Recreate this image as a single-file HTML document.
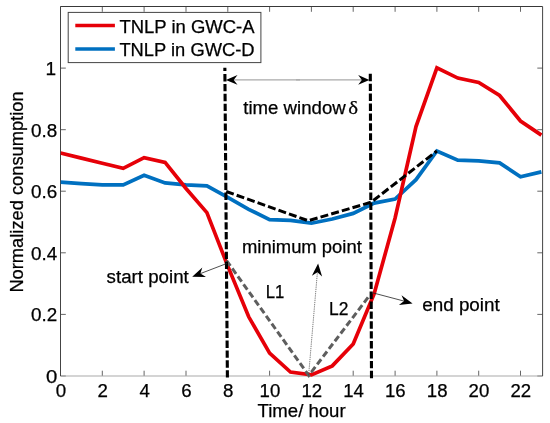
<!DOCTYPE html>
<html lang="en"><head><meta charset="utf-8"><title>TNLP chart</title>
<style>html,body{margin:0;padding:0;background:#fff}body{width:550px;height:423px;overflow:hidden}</style></head>
<body>
<svg width="550" height="423" viewBox="0 0 550 423" style="display:block">
<rect width="550" height="423" fill="#fff"/>
<clipPath id="c"><rect x="60.5" y="6.5" width="482.1" height="372.5"/></clipPath>
<g stroke="#666" stroke-width="1" fill="none">
<line x1="60.5" y1="376.0" x2="60.5" y2="370.7"/>
<line x1="60.5" y1="6.5" x2="60.5" y2="11.8"/>
<line x1="102.3" y1="376.0" x2="102.3" y2="370.7"/>
<line x1="102.3" y1="6.5" x2="102.3" y2="11.8"/>
<line x1="144.1" y1="376.0" x2="144.1" y2="370.7"/>
<line x1="144.1" y1="6.5" x2="144.1" y2="11.8"/>
<line x1="186.0" y1="376.0" x2="186.0" y2="370.7"/>
<line x1="186.0" y1="6.5" x2="186.0" y2="11.8"/>
<line x1="227.8" y1="376.0" x2="227.8" y2="370.7"/>
<line x1="227.8" y1="6.5" x2="227.8" y2="11.8"/>
<line x1="269.6" y1="376.0" x2="269.6" y2="370.7"/>
<line x1="269.6" y1="6.5" x2="269.6" y2="11.8"/>
<line x1="311.4" y1="376.0" x2="311.4" y2="370.7"/>
<line x1="311.4" y1="6.5" x2="311.4" y2="11.8"/>
<line x1="353.2" y1="376.0" x2="353.2" y2="370.7"/>
<line x1="353.2" y1="6.5" x2="353.2" y2="11.8"/>
<line x1="395.1" y1="376.0" x2="395.1" y2="370.7"/>
<line x1="395.1" y1="6.5" x2="395.1" y2="11.8"/>
<line x1="436.9" y1="376.0" x2="436.9" y2="370.7"/>
<line x1="436.9" y1="6.5" x2="436.9" y2="11.8"/>
<line x1="478.7" y1="376.0" x2="478.7" y2="370.7"/>
<line x1="478.7" y1="6.5" x2="478.7" y2="11.8"/>
<line x1="520.5" y1="376.0" x2="520.5" y2="370.7"/>
<line x1="520.5" y1="6.5" x2="520.5" y2="11.8"/>
<line x1="60.5" y1="376.0" x2="65.8" y2="376.0"/>
<line x1="542.6" y1="376.0" x2="537.3000000000001" y2="376.0"/>
<line x1="60.5" y1="314.4" x2="65.8" y2="314.4"/>
<line x1="542.6" y1="314.4" x2="537.3000000000001" y2="314.4"/>
<line x1="60.5" y1="252.8" x2="65.8" y2="252.8"/>
<line x1="542.6" y1="252.8" x2="537.3000000000001" y2="252.8"/>
<line x1="60.5" y1="191.2" x2="65.8" y2="191.2"/>
<line x1="542.6" y1="191.2" x2="537.3000000000001" y2="191.2"/>
<line x1="60.5" y1="129.7" x2="65.8" y2="129.7"/>
<line x1="542.6" y1="129.7" x2="537.3000000000001" y2="129.7"/>
<line x1="60.5" y1="68.1" x2="65.8" y2="68.1"/>
<line x1="542.6" y1="68.1" x2="537.3000000000001" y2="68.1"/>
</g>
<line x1="60.5" y1="376.0" x2="542.6" y2="376.0" stroke="#aaa" stroke-width="1.2"/>
<line x1="60.5" y1="6.5" x2="542.6" y2="6.5" stroke="#383838" stroke-width="1.1"/>
<line x1="60.5" y1="6.5" x2="60.5" y2="376.0" stroke="#444" stroke-width="1"/>
<line x1="542.6" y1="6.5" x2="542.6" y2="376.0" stroke="#444" stroke-width="1"/>
<g clip-path="url(#c)" fill="none" stroke-linejoin="miter">
<polyline points="60.5,182.1 81.4,183.7 102.3,184.9 123.2,184.9 144.1,175.2 165.1,182.9 186.0,184.9 206.9,185.8 227.8,197.3 248.7,209.3 269.6,219.7 290.5,220.3 311.4,223.2 332.3,219.0 353.2,213.4 374.1,203.1 395.1,199.1 416.0,179.7 436.9,151.0 457.8,160.1 478.7,160.9 499.6,162.9 520.5,176.7 541.4,171.9" stroke="#0070c0" stroke-width="3.7"/>
<polyline points="60.5,153.0 81.4,158.1 102.3,163.2 123.2,168.3 144.1,157.6 165.1,162.4 186.0,188.5 206.9,212.6 227.8,266.2 248.7,316.8 269.6,353.1 290.5,372.0 311.4,374.9 332.3,365.9 353.2,344.0 374.1,294.0 395.1,218.0 416.0,126.6 436.9,67.9 457.8,78.1 478.7,82.4 499.6,95.5 520.5,121.0 541.4,135.1" stroke="#e60008" stroke-width="3.7"/>
<polyline points="226.6,260.6 308.8,375.5 369.3,295.8" stroke="#5e5e5e" stroke-width="3.0" stroke-dasharray="6.5 3.2"/>
<polyline points="226.2,191.5 308.2,220.7 371.2,202.2 436.9,151" stroke="#000" stroke-width="3.0" stroke-dasharray="8 3.1"/>
<line x1="224.85" y1="67.8" x2="224.88" y2="71.1" stroke="#000" stroke-width="3.1"/>
<line x1="224.9" y1="74.1" x2="227.4" y2="377.7" stroke="#000" stroke-width="3.1" stroke-dasharray="7.37 2.5"/>
<line x1="370.3" y1="73.8" x2="371.5" y2="378.4" stroke="#000" stroke-width="3.1" stroke-dasharray="7.4 2.5"/>
</g>
<line x1="300.0" y1="79.9" x2="233.7" y2="79.9" stroke="#aaa" stroke-width="1.3"/><polygon points="225.9,79.9 237.5,75.1 233.7,79.9 237.5,84.7" fill="#000"/>
<line x1="296.0" y1="79.9" x2="361.8" y2="79.9" stroke="#aaa" stroke-width="1.3"/><polygon points="369.4,79.9 358.2,84.7 361.8,79.9 358.2,75.1" fill="#000"/>
<line x1="227.0" y1="263.4" x2="200.4" y2="273.6" stroke="#222" stroke-width="0.8"/><polygon points="192.2,276.7 202.3,267.4 200.4,273.6 206.0,276.9" fill="#000"/>
<line x1="373.0" y1="292.9" x2="404.1" y2="301.1" stroke="#222" stroke-width="0.8"/><polygon points="412.6,303.4 398.9,305.0 404.1,301.1 401.5,295.2" fill="#000"/>
<line x1="308.6" y1="375.5" x2="317.4" y2="272.2" stroke="#444" stroke-width="0.7" stroke-dasharray="1.3 0.9"/><polygon points="318.1,263.4 322.1,276.6 317.4,272.2 311.9,275.7" fill="#000"/>
<rect x="68.2" y="12.4" width="192.7" height="50.2" fill="#fff" stroke="#444" stroke-width="1"/>
<line x1="75.3" y1="25.5" x2="114.9" y2="25.5" stroke="#e60008" stroke-width="3.4"/>
<line x1="75.3" y1="49" x2="114.9" y2="49" stroke="#0070c0" stroke-width="3.7"/>
<g font-family="'Liberation Sans', sans-serif" font-size="18" fill="#000" stroke="#000" stroke-width="0.25">
<text x="119.4" y="33.3" text-anchor="start" textLength="135.2" lengthAdjust="spacingAndGlyphs">TNLP in GWC-A</text>
<text x="119.4" y="56.0" text-anchor="start" textLength="135.2" lengthAdjust="spacingAndGlyphs">TNLP in GWC-D</text>
<text x="55.8" y="396.8" text-anchor="start" textLength="10.4" lengthAdjust="spacingAndGlyphs">0</text>
<text x="97.6" y="396.8" text-anchor="start" textLength="10.4" lengthAdjust="spacingAndGlyphs">2</text>
<text x="139.4" y="396.8" text-anchor="start" textLength="10.4" lengthAdjust="spacingAndGlyphs">4</text>
<text x="181.3" y="396.8" text-anchor="start" textLength="10.4" lengthAdjust="spacingAndGlyphs">6</text>
<text x="223.1" y="396.8" text-anchor="start" textLength="10.4" lengthAdjust="spacingAndGlyphs">8</text>
<text x="259.6" y="396.8" text-anchor="start" textLength="20.7" lengthAdjust="spacingAndGlyphs">10</text>
<text x="301.4" y="396.8" text-anchor="start" textLength="20.7" lengthAdjust="spacingAndGlyphs">12</text>
<text x="343.2" y="396.8" text-anchor="start" textLength="20.7" lengthAdjust="spacingAndGlyphs">14</text>
<text x="385.0" y="396.8" text-anchor="start" textLength="20.7" lengthAdjust="spacingAndGlyphs">16</text>
<text x="426.8" y="396.8" text-anchor="start" textLength="20.7" lengthAdjust="spacingAndGlyphs">18</text>
<text x="468.6" y="396.8" text-anchor="start" textLength="20.7" lengthAdjust="spacingAndGlyphs">20</text>
<text x="510.5" y="396.8" text-anchor="start" textLength="20.7" lengthAdjust="spacingAndGlyphs">22</text>
<text x="45.9" y="382.9" text-anchor="start" textLength="11.3" lengthAdjust="spacingAndGlyphs">0</text>
<text x="31.0" y="321.3" text-anchor="start" textLength="26.2" lengthAdjust="spacingAndGlyphs">0.2</text>
<text x="31.0" y="259.7" text-anchor="start" textLength="26.2" lengthAdjust="spacingAndGlyphs">0.4</text>
<text x="31.0" y="198.2" text-anchor="start" textLength="26.2" lengthAdjust="spacingAndGlyphs">0.6</text>
<text x="31.0" y="136.6" text-anchor="start" textLength="26.2" lengthAdjust="spacingAndGlyphs">0.8</text>
<text x="45.6" y="74.8" text-anchor="start" textLength="10.6" lengthAdjust="spacingAndGlyphs">1</text>
<text x="257.6" y="416.5" text-anchor="start" textLength="88" lengthAdjust="spacingAndGlyphs">Time/ hour</text>
<text x="0" y="0" text-anchor="start" textLength="201.2" lengthAdjust="spacingAndGlyphs" transform="translate(22.9,292.6) rotate(-90)">Normalized consumption</text>
<text x="243.3" y="113.7" text-anchor="start" textLength="102.4" lengthAdjust="spacingAndGlyphs">time window</text>
<text x="348.2" y="113.6" font-family="'Liberation Serif', 'DejaVu Serif', serif" font-size="18.4" textLength="9.8" lengthAdjust="spacingAndGlyphs">δ</text>
<text x="106.6" y="282.6" text-anchor="start" textLength="82.2" lengthAdjust="spacingAndGlyphs">start point</text>
<text x="242" y="252.7" text-anchor="start" textLength="119.8" lengthAdjust="spacingAndGlyphs">minimum point</text>
<text x="422.2" y="310.6" text-anchor="start" textLength="77.6" lengthAdjust="spacingAndGlyphs">end point</text>
<text x="265.8" y="298" text-anchor="start" textLength="18.6" lengthAdjust="spacingAndGlyphs">L1</text>
<text x="329" y="314.5" text-anchor="start" textLength="19.4" lengthAdjust="spacingAndGlyphs">L2</text>
</g>
</svg>
</body></html>
